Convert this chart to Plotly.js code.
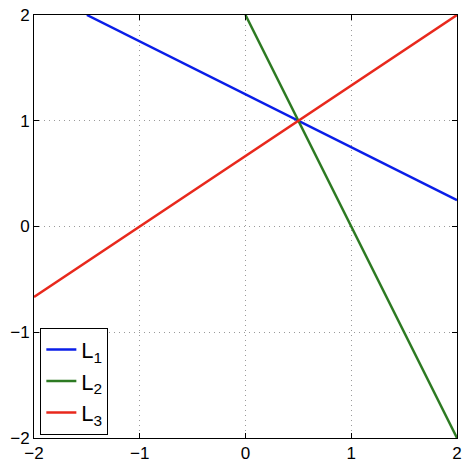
<!DOCTYPE html>
<html><head><meta charset="utf-8">
<script src="https://cdn.plot.ly/plotly-3.0.1.min.js"></script>
<style>html,body{margin:0;padding:0;background:#fff}</style>
</head><body><div id="plot" style="width:474px;height:474px"></div>
<script>
// Endpoints of each line
const names = ['L<sub>1</sub>', 'L<sub>2</sub>', 'L<sub>3</sub>'];
const l1x = [-1.5, 2];   const l1y = [2, 0.25];
const l2x = [0, 2];      const l2y = [2, -2];
const l3x = [-2, 2];     const l3y = [-0.6667, 2];
const tickVals = [-2, -1, 0, 1, 2];
const tickText = ['\u22122', '\u22121', '0', '1', '2'];
const colors = ['#0a1ee8', '#2d7a22', '#e8281c'];

const xs = [l1x, l2x, l3x], ys = [l1y, l2y, l3y];
const data = xs.map((x, i) => ({
  x: x, y: ys[i], type: 'scatter', mode: 'lines', name: names[i],
  line: {color: colors[i], width: 2.5}
}));
const axis = {
  range: [-2, 2], tickvals: tickVals, ticktext: tickText,
  showgrid: true, gridcolor: '#9a9a9a', griddash: '1px,4px', gridwidth: 1,
  zeroline: false, showline: true, linecolor: '#000', linewidth: 1,
  mirror: 'ticks', ticks: 'inside', ticklen: 5, tickcolor: '#000',
  tickfont: {family: 'Liberation Sans, Arial, sans-serif', size: 17, color: '#000'}
};
const layout = {
  width: 474, height: 474,
  margin: {l: 34, r: 17, t: 15, b: 36},
  paper_bgcolor: '#fff', plot_bgcolor: '#fff',
  xaxis: Object.assign({}, axis, {ticklabelstandoff: 0}),
  yaxis: Object.assign({}, axis),
  showlegend: true,
  legend: {
    x: 0.015, y: 0.008, xanchor: 'left', yanchor: 'bottom',
    bordercolor: '#000', borderwidth: 1, bgcolor: '#fff',
    font: {family: 'Liberation Sans, Arial, sans-serif', size: 22, color: '#000'},
    tracegroupgap: 0, itemwidth: 30
  }
};
Plotly.newPlot('plot', data, layout, {displayModeBar: false, staticPlot: true});
</script></body></html>
